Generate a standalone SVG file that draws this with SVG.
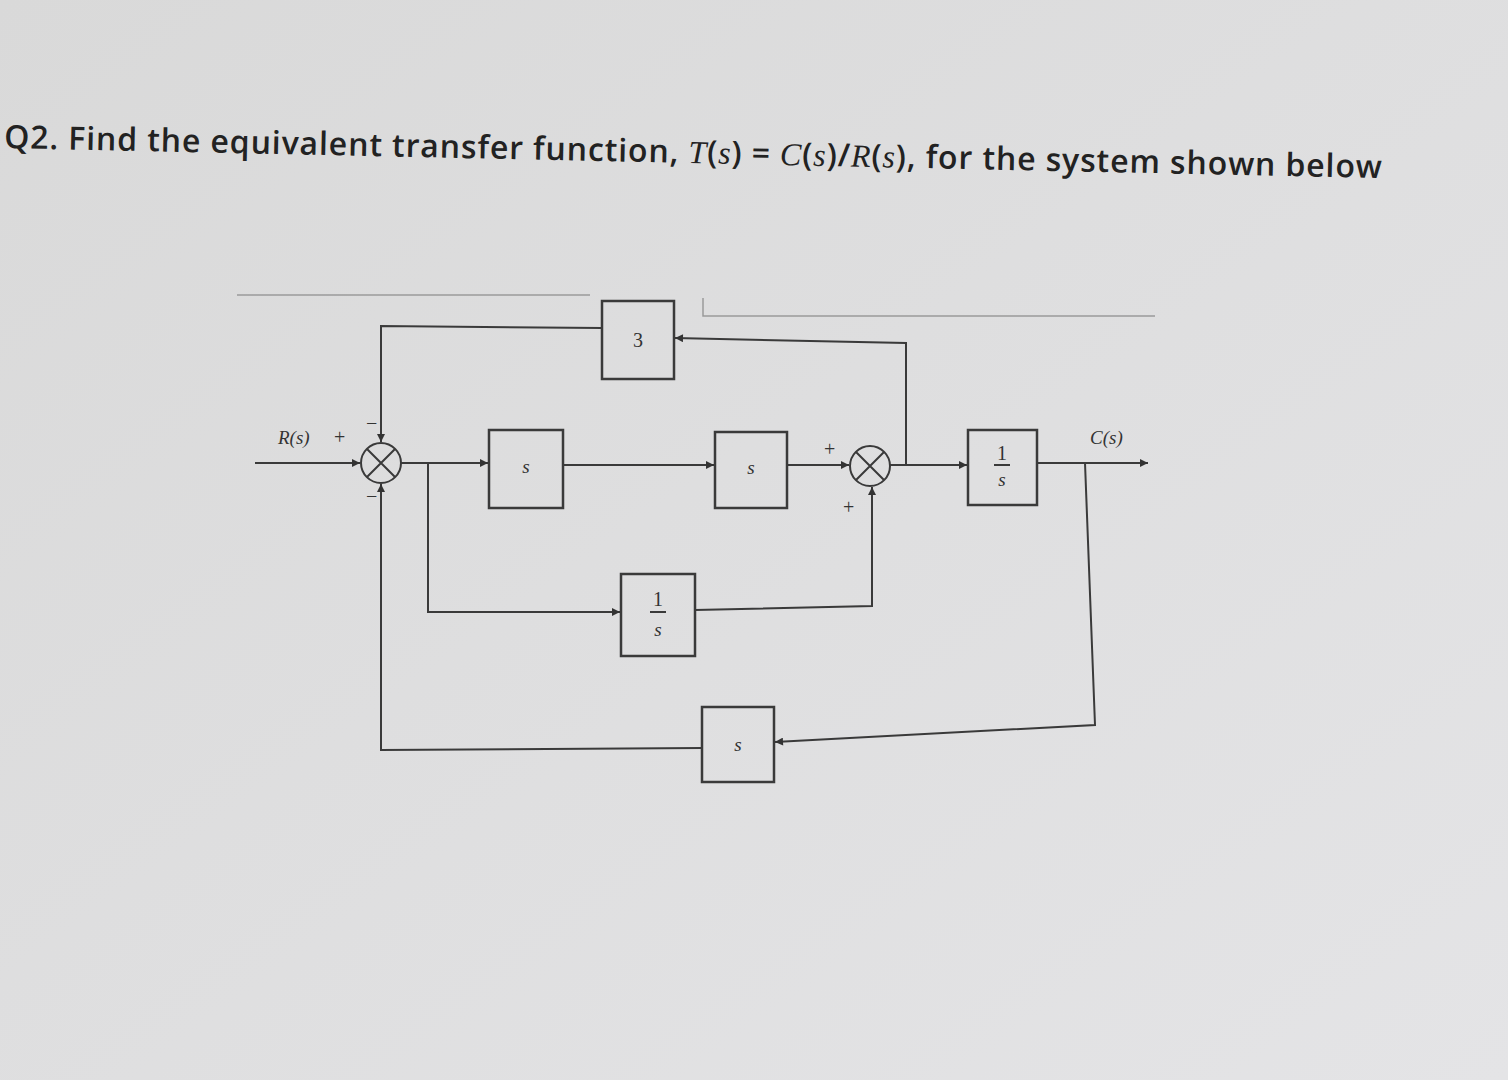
<svg xmlns="http://www.w3.org/2000/svg" width="1508" height="1080" viewBox="0 0 1508 1080">
<defs>
<linearGradient id="bg" x1="0" y1="0" x2="1" y2="1"><stop offset="0" stop-color="#d9d9d9"/><stop offset="1" stop-color="#e4e4e6"/></linearGradient>
<marker id="a" viewBox="0 0 10 10" refX="10" refY="5" markerWidth="10" markerHeight="8" orient="auto" markerUnits="userSpaceOnUse"><path d="M0,0L10,5L0,10z" fill="#333"/></marker>
</defs>
<style>
.w{fill:none;stroke:#3a3a3a;stroke-width:2}
.b{fill:none;stroke:#3a3a3a;stroke-width:2.5}
.t{font-family:"Liberation Serif",serif;font-style:italic;font-size:19px;fill:#333}
.n{font-family:"Liberation Serif",serif;font-size:20px;fill:#333}
.f{stroke:#9a9a9a;stroke-width:1.5;fill:none}
.m{font-family:"Liberation Serif",serif;font-style:italic;font-weight:normal}
</style>
<rect width="1508" height="1080" fill="url(#bg)"/>
<text transform="translate(4,148) rotate(1.25)" font-family="Open Sans, sans-serif" font-weight="600" font-size="32" fill="#222" textLength="1378" lengthAdjust="spacing">Q2. Find the equivalent transfer function, <tspan class="m">T</tspan>(<tspan class="m">s</tspan>) = <tspan class="m">C</tspan>(<tspan class="m">s</tspan>)/<tspan class="m">R</tspan>(<tspan class="m">s</tspan>), for the system shown below</text>
<path class="f" d="M237,295H590M703,298V316H1155"/>
<g id="connectors">
<path class="w" d="M255,463H360" marker-end="url(#a)"/>
<path class="w" d="M401,463H488" marker-end="url(#a)"/>
<path class="w" d="M428,463V612H620" marker-end="url(#a)"/>
<path class="w" d="M563,465H714" marker-end="url(#a)"/>
<path class="w" d="M787,465H849" marker-end="url(#a)"/>
<path class="w" d="M695,610L872,606V487" marker-end="url(#a)"/>
<path class="w" d="M890,465H967" marker-end="url(#a)"/>
<path class="w" d="M1037,463H1148" marker-end="url(#a)"/>
<path class="w" d="M1085,463L1095,725L775,742" marker-end="url(#a)"/>
<path class="w" d="M702,748L381,750V484" marker-end="url(#a)"/>
<path class="w" d="M906,466V343L675,338" marker-end="url(#a)"/>
<path class="w" d="M602,328L381,326V442" marker-end="url(#a)"/>
</g>
<g id="sum1"><circle class="w" cx="381" cy="463" r="20"/><path class="w" d="M367,449L395,477M395,449L367,477"/></g>
<g id="sum2"><circle class="w" cx="870" cy="466" r="20"/><path class="w" d="M856,452L884,480M884,452L856,480"/></g>
<g id="labels">
<text class="t" x="278" y="444">R(s)</text><text class="n" x="334" y="444">+</text>
<text class="n" x="366" y="430" font-size="14">−</text><text class="n" x="366" y="503" font-size="14">−</text>
<text class="n" x="824" y="456" font-size="16">+</text><text class="n" x="843" y="514" font-size="16">+</text>
<text class="t" x="1090" y="444">C(s)</text>
</g>
<g id="b3"><rect class="b" x="602" y="301" width="72" height="78"/><text class="n" x="638" y="347" text-anchor="middle">3</text></g>
<g id="bs1"><rect class="b" x="489" y="430" width="74" height="78"/><text class="t" x="526" y="473" text-anchor="middle">s</text></g>
<g id="bs2"><rect class="b" x="715" y="432" width="72" height="76"/><text class="t" x="751" y="474" text-anchor="middle">s</text></g>
<g id="binv1"><rect class="b" x="968" y="430" width="69" height="75"/><text class="n" x="1002" y="460" text-anchor="middle" font-size="16">1</text><path class="w" d="M994,465H1010"/><text class="t" x="1002" y="486" text-anchor="middle" font-size="15">s</text></g>
<g id="binv2"><rect class="b" x="621" y="574" width="74" height="82"/><text class="n" x="658" y="606" text-anchor="middle" font-size="18">1</text><path class="w" d="M650,612H666"/><text class="t" x="658" y="636" text-anchor="middle">s</text></g>
<g id="bs3"><rect class="b" x="702" y="707" width="72" height="75"/><text class="t" x="738" y="751" text-anchor="middle">s</text></g>
</svg>
